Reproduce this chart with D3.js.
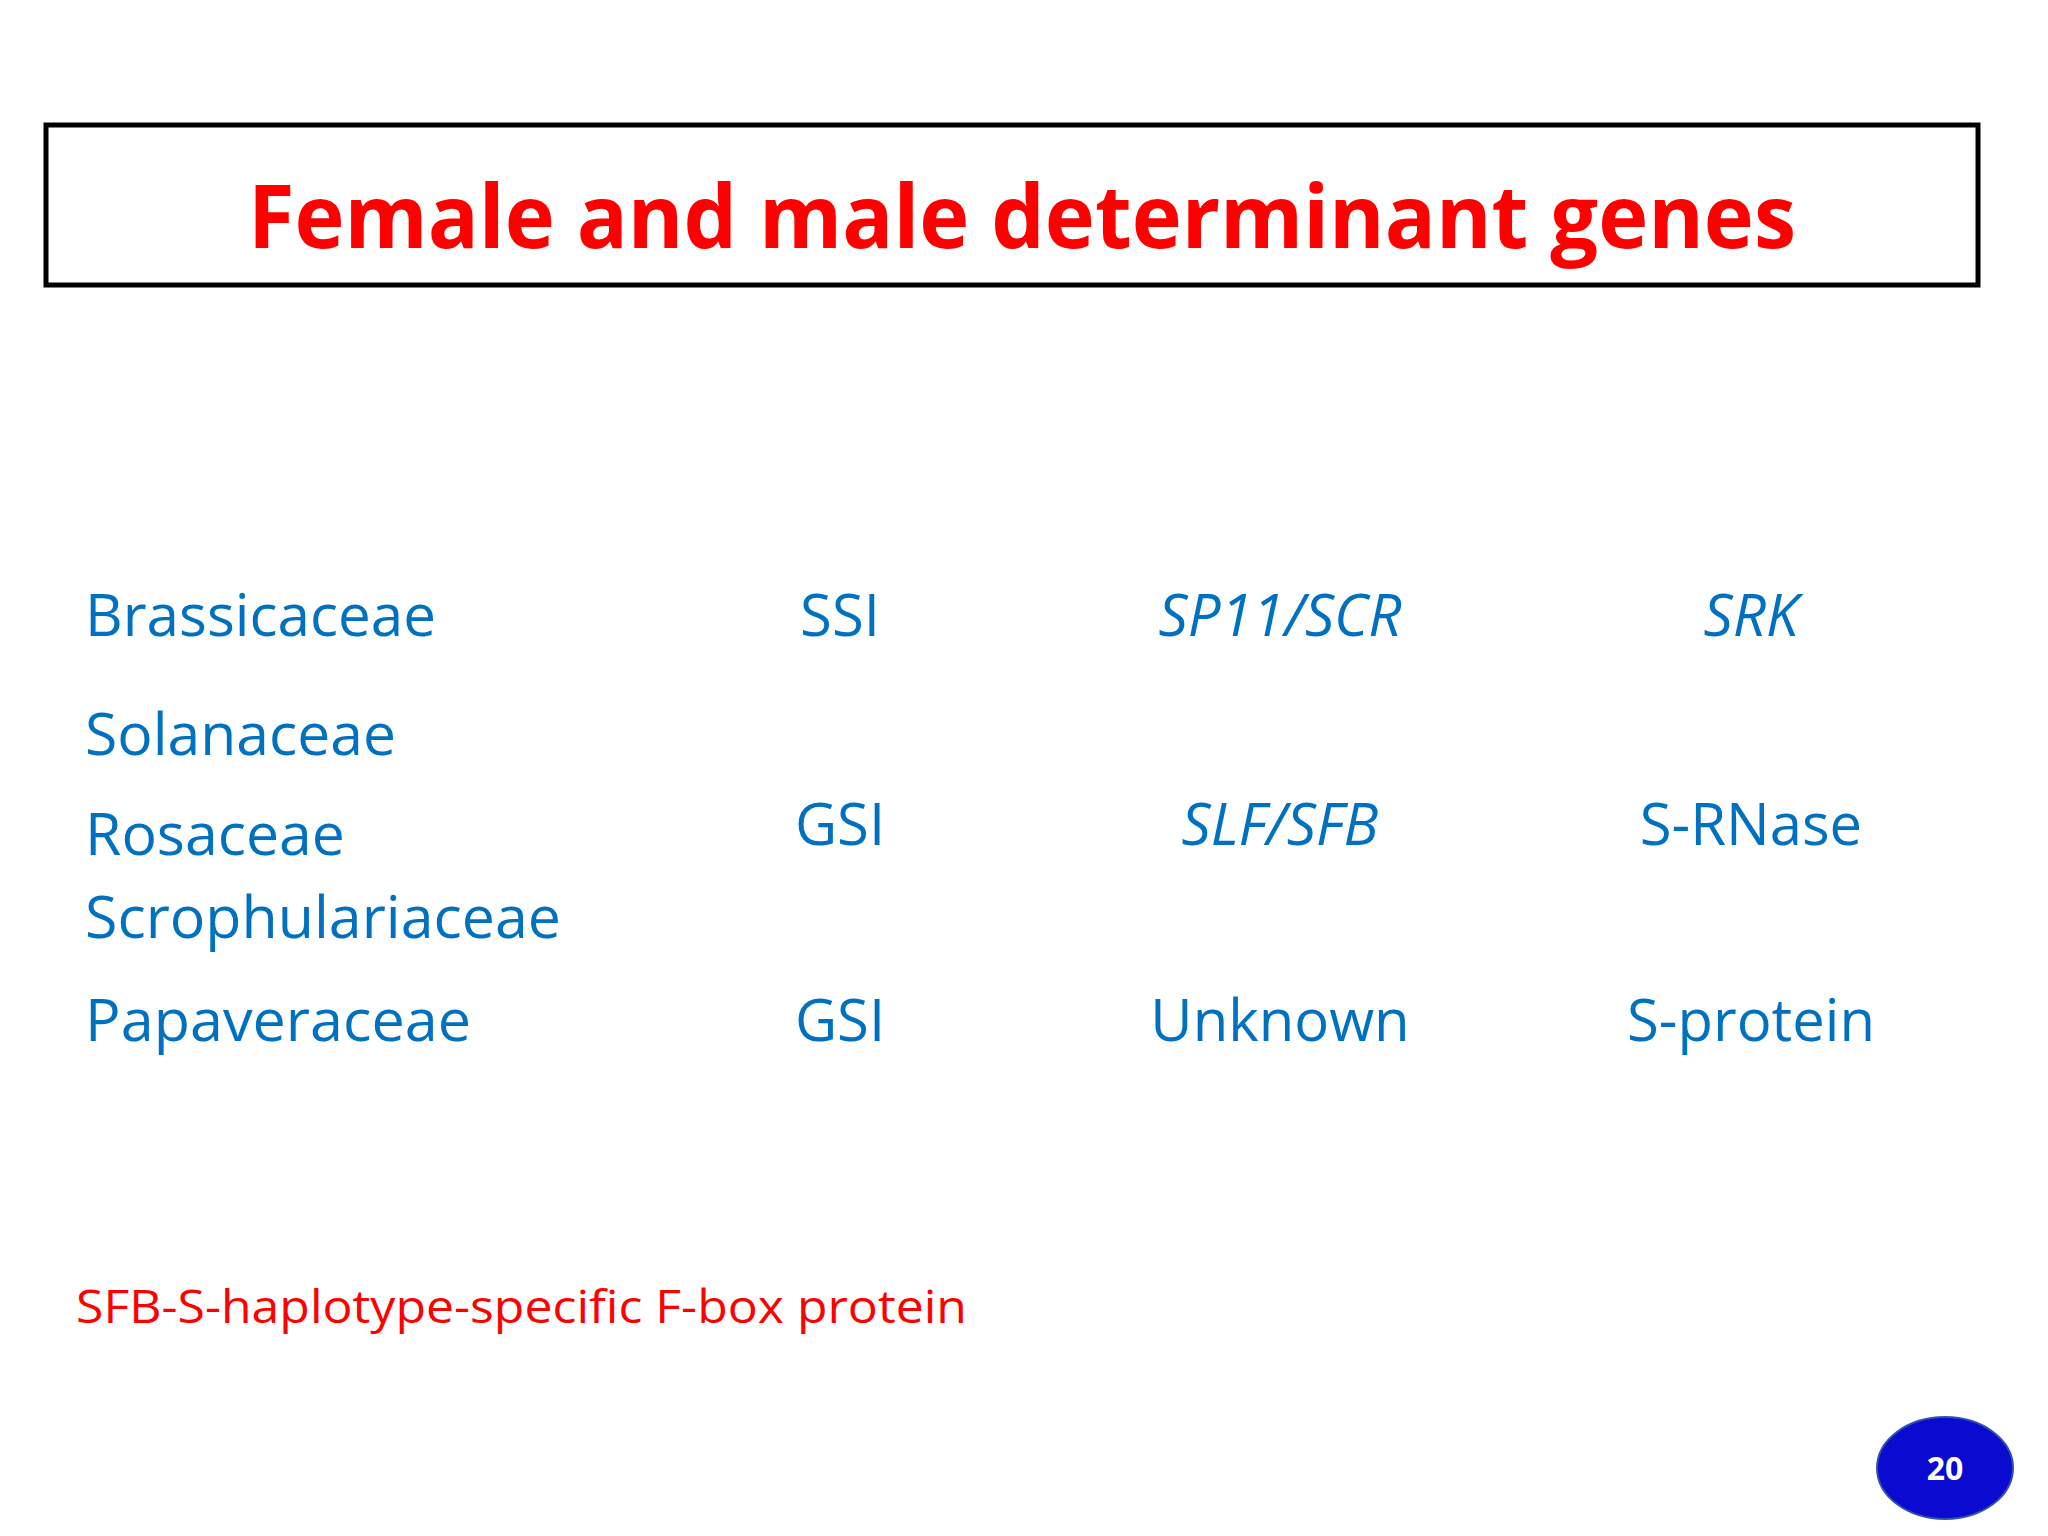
<!DOCTYPE html>
<html><head><meta charset="utf-8">
<script src="https://cdn.jsdelivr.net/npm/d3@7"></script>
<style>body{margin:0;background:#fff}</style></head>
<body><script>
const title = "Female and male determinant genes";
const families = ["Brassicaceae","Solanaceae","Rosaceae","Scrophulariaceae","Papaveraceae"];
const groups = ["g1","g2","g3"];
const systems = ["SSI","GSI","GSI"];
const maleGenes = ["SP11/SCR","SLF/SFB","Unknown"];
const femaleGenes = ["SRK","S-RNase","S-protein"];
const italicMale = [true,true,false];
const italicFemale = [true,false,false];
const familyGroup = ["g1","g2","g2","g2","g3"];
const familyWidths = [351,311,260,476,386];
const footnote = "SFB-S-haplotype-specific F-box protein";
const pageNo = "20";

const W=2048,H=1536;
const svg=d3.select("body").append("svg").attr("width",W).attr("height",H);
const blue="#0070c0", red="#ff0000";
const font="'Open Sans', sans-serif";

svg.append("rect").attr("x",46).attr("y",125).attr("width",1932).attr("height",160)
  .attr("fill","none").attr("stroke","#000").attr("stroke-width",5);
svg.append("text").attr("x",1022).attr("y",248).attr("text-anchor","middle")
  .attr("font-family",font).attr("font-weight",700).attr("font-size",88)
  .attr("fill",red).attr("textLength",1548).attr("lengthAdjust","spacingAndGlyphs").text(title);

const familyY = d3.scaleOrdinal().domain(families).range([636,755,855,938,1041]);
const groupY = d3.scaleOrdinal().domain(groups).range([636,845,1041]);
const col = d3.scaleOrdinal().domain(["sys","male","female"]).range([840,1280,1751]);

svg.selectAll("text.fam").data(families).join("text").attr("class","fam")
  .attr("x",85).attr("y",d=>familyY(d)).attr("font-family",font).attr("font-size",58)
  .attr("fill",blue).attr("textLength",(d,i)=>familyWidths[i]).attr("lengthAdjust","spacingAndGlyphs").text(d=>d);

const cols=[["sys",systems,[false,false,false]],["male",maleGenes,italicMale],["female",femaleGenes,italicFemale]];
cols.forEach(([k,arr,it])=>{
  svg.selectAll("text."+k).data(arr).join("text").attr("class",k)
    .attr("x",col(k)).attr("y",(d,i)=>groupY(groups[i])).attr("text-anchor","middle")
    .attr("font-family",font).attr("font-size",58).attr("font-style",(d,i)=>it[i]?"italic":"normal")
    .attr("fill",blue).text(d=>d);
});

svg.append("text").attr("x",76).attr("y",1323).attr("font-family",font).attr("font-size",46)
  .attr("fill",red).attr("textLength",891).attr("lengthAdjust","spacingAndGlyphs").text(footnote);

svg.append("ellipse").attr("cx",1945).attr("cy",1468).attr("rx",68).attr("ry",51)
  .attr("fill","#0a0ad0").attr("stroke","#3050b0").attr("stroke-width",2);
svg.append("text").attr("x",1945).attr("y",1480).attr("text-anchor","middle")
  .attr("font-family",font).attr("font-weight",700).attr("font-size",32).attr("fill","#fff").text(pageNo);
</script></body></html>
